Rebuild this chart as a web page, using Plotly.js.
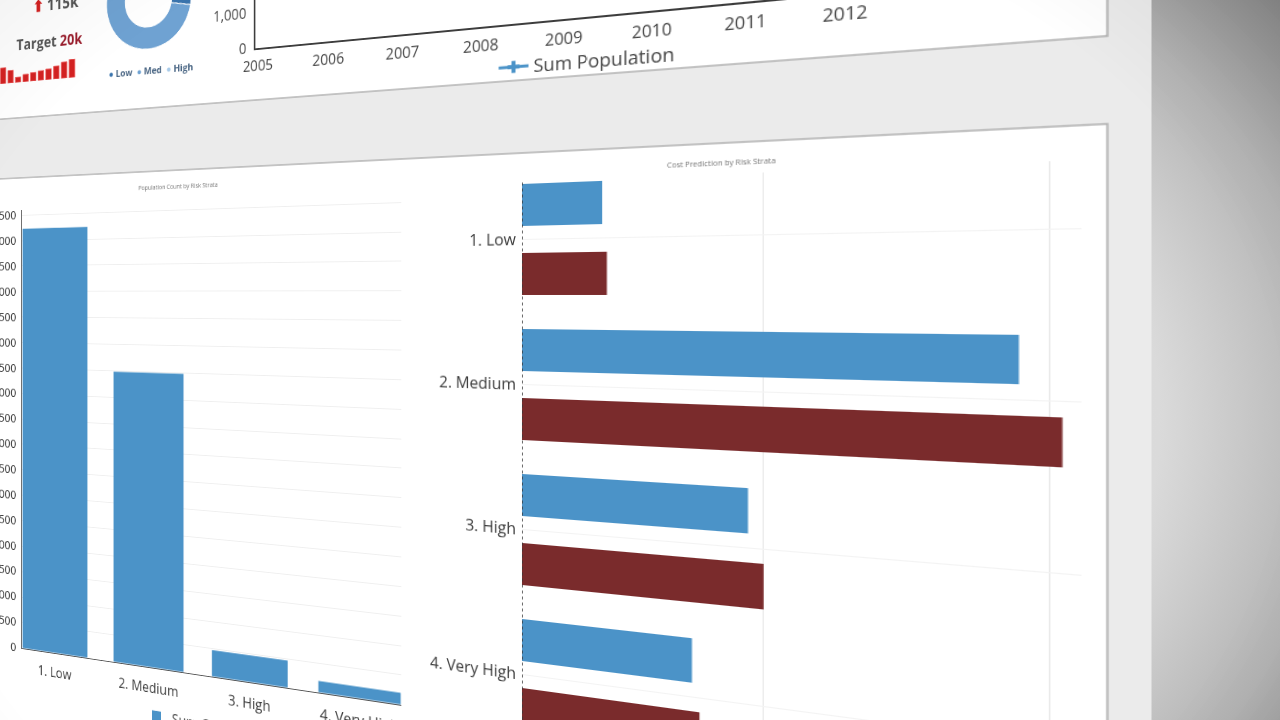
<!DOCTYPE html>
<html>
<head>
<meta charset="utf-8">
<script src="https://cdn.plot.ly/plotly-3.0.1.min.js"></script>
<style>
  html, body { margin:0; padding:0; width:1280px; height:720px; overflow:hidden; }
  body { background: radial-gradient(ellipse 900px 700px at 620px 420px, #ececec 0%, #dadada 60%, #b3b3b3 80%, #7b7b7b 100%); position:relative; }
  #page { position:absolute; left:0; top:0; width:1400px; height:1260px; transform-origin:0 0; }
  #vignette { position:absolute; left:0; top:0; width:1280px; height:720px; pointer-events:none;
    background: radial-gradient(ellipse 1000px 780px at 600px 430px, rgba(0,0,0,0) 68%, rgba(0,0,0,0.10) 100%); }
</style>
</head>
<body>
<div id="page"></div>
<div id="vignette"></div>
<script>
// ---------------- data ----------------
const years = [2005, 2006, 2007, 2008, 2009, 2010, 2011, 2012];
const yearLabels = ['2005', '2006', '2007', '2008', '2009', '2010', '2011', '2012'];
const sumPopulation = [4200, 4850, 5400, 5900, 6600, 7200, 7700, 8300];

const riskStrata = ['1. Low', '2. Medium', '3. High', '4. Very High'];
const populationCount = [8230, 5480, 480, 200];

const sumCost = [0.35, 1.90, 0.94, 0.72];          // $M
const sumPredictedCost = [0.37, 2.04, 1.00, 0.75]; // $M

const donutLabels = ['Low', 'Med', 'High'];
const donutValues = [28, 55, 17];

const trendIndex = [1, 2, 3, 4, 5, 6, 7, 8, 9, 10];
const targetTrend = [15, 12, 5, 7, 8, 9, 10, 12, 15, 17];

// ---------------- flat page geometry ----------------
const W = 1400, H = 1260, VOFF = 420;
function fx(u) { return u / W; }
function fy(v) { return 1 - (v + VOFF) / H; }

const BLUE = '#4b93c8', RED = '#7a2b2c', AX = '#3d3d3d';
const FONT = 'Open Sans, Noto Sans, sans-serif';

const traces = [
  { type:'scatter', mode:'lines+markers', x: years, y: sumPopulation, name:'Sum Population',
    xaxis:'x', yaxis:'y', line:{color:BLUE, width:3}, marker:{symbol:'cross', size:10, color:BLUE},
    legend:'legend' },
  { type:'bar', x: riskStrata, y: populationCount, name:'Sum Count', xaxis:'x2', yaxis:'y2',
    marker:{color:BLUE}, width:0.72, legend:'legend2' },
  { type:'bar', orientation:'h', y: riskStrata, x: sumCost, name:'Sum Cost', xaxis:'x3', yaxis:'y3',
    marker:{color:BLUE}, width:0.29, offset:-0.383, showlegend:false },
  { type:'bar', orientation:'h', y: riskStrata, x: sumPredictedCost, name:'Sum Predicted Cost', xaxis:'x3', yaxis:'y3',
    marker:{color:RED}, width:0.29, offset:0.093, showlegend:false },
  { type:'bar', x: trendIndex, y: targetTrend, xaxis:'x4', yaxis:'y4', showlegend:false,
    marker:{color:'#d42222', line:{color:'#f07070', width:1}}, width:0.72 },
  { type:'pie', labels: donutLabels, values: donutValues, hole:0.55, sort:false, direction:'clockwise', rotation:0,
    textinfo:'none', showlegend:false,
    marker:{colors:['#3a74ad', '#6fa2d2', '#a9cbe9'], line:{color:'#ffffff', width:1}},
    domain:{x:[fx(214), fx(326)], y:[fy(12), fy(-100)]} }
];

const CENTER = {xanchor:'center', yanchor:'middle', showarrow:false, xref:'paper', yref:'paper'};

const layout = {
  width: W, height: H, margin:{l:0, r:0, t:0, b:0, pad:0},
  paper_bgcolor:'rgba(0,0,0,0)', plot_bgcolor:'rgba(0,0,0,0)',
  font:{family:FONT, color:'#3a3a3a', size:16},
  barmode:'group', bargap:0.27,
  // top line chart
  xaxis:{domain:[fx(406), fx(1040)], anchor:'y', range:[2004.964, 2012.6], tickvals: years, ticktext: yearLabels,
    showline:true, linecolor:AX, linewidth:2, showgrid:false, zeroline:false, ticks:'',
    tickfont:{size:16, color:'#444'}, ticklabelstandoff:4},
  yaxis:{domain:[fy(22.6), fy(-36.6)], anchor:'x', range:[0, 1500], dtick:1000, tickformat:',d',
    showline:true, linecolor:AX, linewidth:2, showgrid:false, zeroline:false, ticks:'',
    tickfont:{size:16, color:'#444'}, ticklabelstandoff:6},
  // left bar chart
  xaxis2:{domain:[fx(94), fx(574)], anchor:'y2', type:'category', range:[-0.367, 3.365],
    showline:true, linecolor:'#555', linewidth:1.5, showgrid:false, zeroline:false, ticks:'',
    tickfont:{size:16, color:'#3a3a3a'}, ticklabelstandoff:9},
  yaxis2:{domain:[fy(722.8), fy(192)], anchor:'x2', range:[0, 8600], dtick:500, tickformat:',d',
    showline:true, linecolor:'#555', linewidth:1.5, showgrid:true, gridcolor:'#efefef', zeroline:false, ticks:'',
    tickfont:{size:15, color:'#3a3a3a'}, ticklabelstandoff:4},
  // right bar chart
  xaxis3:{domain:[fx(700), fx(1168)], anchor:'y3', range:[0, 2.1], dtick:1, showticklabels:false,
    showgrid:true, gridcolor:'#e8e8e8', showline:false, zeroline:false, ticks:''},
  yaxis3:{domain:[fy(761.5), fy(181.5)], anchor:'x3', type:'category', range:[3.6, -0.4],
    showgrid:true, gridcolor:'#f3f3f3', showline:false, zeroline:false, ticks:'',
    tickfont:{size:16, color:'#3a3a3a'}, ticklabelstandoff:5},
  // sparkline
  xaxis4:{domain:[fx(60.5), fx(171.5)], anchor:'y4', range:[0.5, 10.5], visible:false},
  yaxis4:{domain:[fy(37), fy(15)], anchor:'x4', range:[0, 17], visible:false},
  legend:{x:fx(761), y:fy(66.6), xanchor:'center', yanchor:'middle', orientation:'h',
    font:{size:18, color:'#444'}, bgcolor:'rgba(0,0,0,0)'},
  legend2:{x:fx(325), y:fy(778), xanchor:'center', yanchor:'middle', orientation:'h',
    font:{size:16, color:'#444'}, bgcolor:'rgba(0,0,0,0)'},
  shapes:[
    {type:'rect', xref:'paper', yref:'paper', x0:fx(0), x1:fx(1216), y0:fy(840), y1:fy(-420),
      fillcolor:'#ebebeb', line:{width:0}, layer:'below'},
    {type:'rect', xref:'paper', yref:'paper', x0:fx(-10), x1:fx(1186), y0:fy(80), y1:fy(-430),
      fillcolor:'#ffffff', line:{color:'#b2b2b2', width:1.5}, layer:'below'},
    {type:'rect', xref:'paper', yref:'paper', x0:fx(-10), x1:fx(1186), y0:fy(860), y1:fy(153),
      fillcolor:'#ffffff', line:{color:'#b2b2b2', width:1.5}, layer:'below'},
    {type:'line', xref:'x3', yref:'y3 domain', x0:0, x1:0, y0:0, y1:1,
      line:{color:'#3a3a3a', width:1.5, dash:'dot'}, layer:'above'}
  ],
  annotations:[
    Object.assign({x:fx(308), y:fy(171), text:'Population Count by Risk Strata',
      font:{size:7, color:'#777'}}, CENTER),
    Object.assign({x:fx(885), y:fy(171), text:'Cost Prediction by Risk Strata',
      font:{size:7, color:'#777'}}, CENTER),
    Object.assign({x:fx(143), y:fy(-53), text:'<span style="color:#d42020">⬆</span> 115k',
      font:{size:19, color:'#555', weight:'bold'}}, CENTER),
    Object.assign({x:fx(133), y:fy(-9), text:'Target <span style="color:#9b1f2e">20k</span>',
      font:{size:18, color:'#555', weight:'bold'}}, CENTER),
    Object.assign({x:fx(272), y:fy(36.4),
      text:'<span style="color:#3a74ad">●</span> Low  <span style="color:#6fa2d2">●</span> Med  <span style="color:#a9cbe9">●</span> High',
      font:{size:11, color:'#4a6684', weight:'bold'}}, CENTER)
  ]
};

Plotly.newPlot('page', traces, layout, {staticPlot:true, displayModeBar:false}).then(function () {
  // photographed-at-an-angle look: projective warp of the flat dashboard
  const XV = -2338, Y0 = 295, U0 = 700, XU0 = 522;
  const D0 = XU0 - XV;
  const m = [
    -XV / D0, -Y0 / D0, 0, -1 / D0,
    0, 1, 0, 0,
    0, 0, 1, 0,
    XV * (D0 + U0) / D0 + D0, Y0 * U0 / D0 - VOFF, 0, (D0 + U0) / D0
  ];
  document.getElementById('page').style.transform = 'matrix3d(' + m.join(',') + ')';
});
</script>
</body>
</html>
